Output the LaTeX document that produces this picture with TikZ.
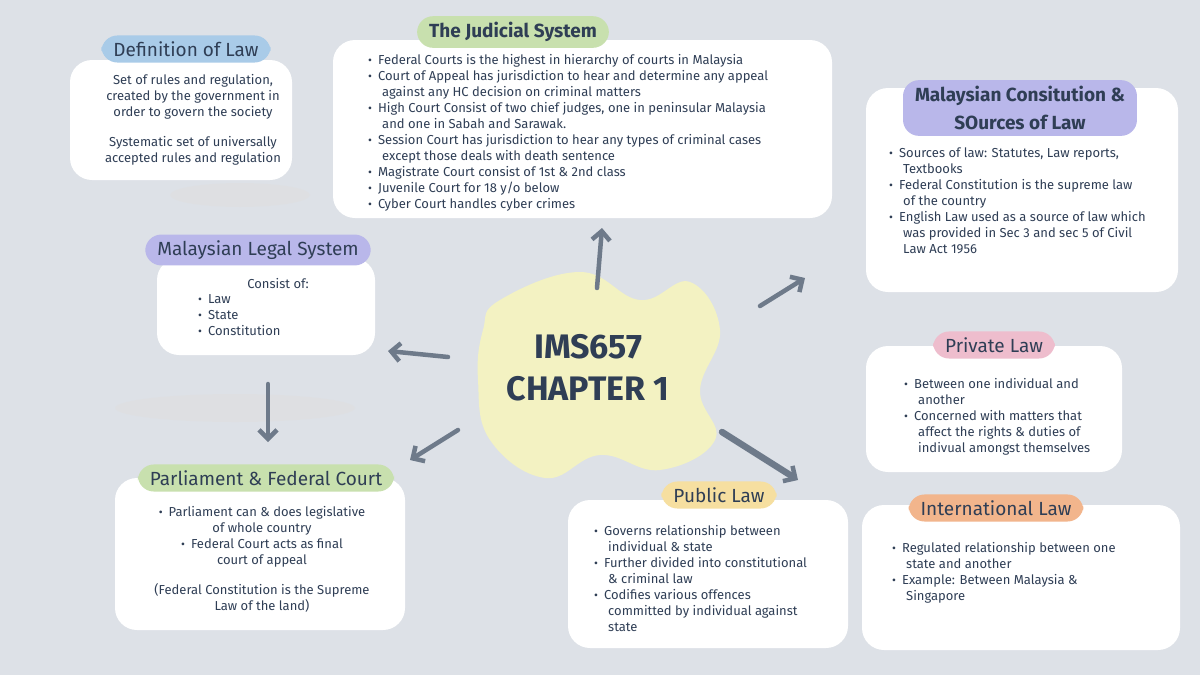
\documentclass[tikz,border=0pt]{standalone}
\usepackage{fontspec}
\setmainfont{Fira Sans}
\usetikzlibrary{arrows.meta}
\definecolor{bg}{HTML}{DDE1E7}
\definecolor{ink}{HTML}{2F3E55}
\definecolor{arr}{HTML}{6E7A8A}
\definecolor{tblue}{HTML}{A9CBE8}
\definecolor{tgreen}{HTML}{C8E0AE}
\definecolor{tpurple}{HTML}{B9B7EA}
\definecolor{tyellow}{HTML}{F6DFA0}
\definecolor{tpink}{HTML}{EEBDCD}
\definecolor{torange}{HTML}{F2B58C}
\definecolor{blob}{HTML}{F3F2C2}
\tikzset{
 box/.style={fill=white,rounded corners=22pt,draw=none},
 ttl/.style={rounded corners=16pt,inner xsep=12pt,inner ysep=6pt,text=ink,font=\fontsize{19}{22}\selectfont,align=center},
 body/.style={text=ink,font=\fontsize{13}{16}\selectfont,align=left,anchor=north west,inner sep=0pt},
 ar/.style={draw=arr,line width=4.5pt,line cap=round,-{Straight Barb[length=9pt,width=18pt,line width=4.5pt]}}
}
\newcommand{\bl}{{\large\textbullet}\hspace{6pt}}
\begin{document}
\begin{tikzpicture}[x=1pt,y=-1pt]
\useasboundingbox[fill=bg] (0,0) rectangle (1200,675);
\fill[gray!25,opacity=0.5] (240,195) ellipse (70 and 12);
\fill[gray!25,opacity=0.5] (235,408) ellipse (120 and 14);
% boxes
\path[box] (70,60) rectangle (292,180);
\path[box] (333,40) rectangle (832,218);
\path[box] (866,88) rectangle (1178,292);
\path[box] (157,258) rectangle (375,355);
\path[box] (115,478) rectangle (405,630);
\path[box] (568,500) rectangle (848,648);
\path[box] (866,346) rectangle (1122,472);
\path[box] (862,505) rectangle (1180,650);
% titles
\node[ttl,fill=tblue] (def) at (186,49) {Definition of Law};
\node[ttl,fill=tgreen,font=\bfseries\fontsize{19}{22}\selectfont] (jud) at (513,32) {The Judicial System};
\node[ttl,fill=tpurple,font=\bfseries\fontsize{19}{28}\selectfont] (con) at (1020,108) {Malaysian Consitution \&\\SOurces of Law};
\node[ttl,fill=tpurple] (mls) at (258,250) {Malaysian Legal System};
\node[ttl,fill=tgreen] (par) at (266,478) {Parliament \& Federal Court};
\node[ttl,fill=tyellow] (pub) at (719,495) {Public Law};
\node[ttl,fill=tpink] (pri) at (994,345) {Private Law};
\node[ttl,fill=torange] (int) at (996,508) {International Law};
% bodies
\node[body,align=center,anchor=north] (defb) at (193,74) {Set of rules and regulation,\\created by the government in\\order to govern the society\\[14pt]Systematic set of universally\\accepted rules and regulation};
\node[body] (judb) at (368,54) {\bl Federal Courts is the highest in hierarchy of courts in Malaysia\\
\bl Court of Appeal has jurisdiction to hear and determine any appeal\\
\hspace{14pt}against any HC decision on criminal matters\\
\bl High Court Consist of two chief judges, one in peninsular Malaysia\\
\hspace{14pt}and one in Sabah and Sarawak.\\
\bl Session Court has jurisdiction to hear any types of criminal cases\\
\hspace{14pt}except those deals with death sentence\\
\bl Magistrate Court consist of 1st \& 2nd class\\
\bl Juvenile Court for 18 y/o below\\
\bl Cyber Court handles cyber crimes};
\node[body] (conb) at (889,148) {\bl Sources of law: Statutes, Law reports,\\
\hspace{14pt}Textbooks\\
\bl Federal Constitution is the supreme law\\
\hspace{14pt}of the country\\
\bl English Law used as a source of law which\\
\hspace{14pt}was provided in Sec 3 and sec 5 of Civil\\
\hspace{14pt}Law Act 1956};
\node[body,anchor=north] (mlsb) at (278,278) {Consist of:};
\node[body] (mlsl) at (198,294) {\bl Law\\ \bl State\\ \bl Constitution};
\node[body,align=center,anchor=north] (parb) at (262,506) {\bl Parliament can \& does legislative\\of whole country\\\bl Federal Court acts as final\\court of appeal\\[14pt](Federal Constitution is the Supreme\\Law of the land)};
\node[body] (pubb) at (594,525) {\bl Governs relationship between\\
\hspace{14pt}individual \& state\\
\bl Further divided into constitutional\\
\hspace{14pt}\& criminal law\\
\bl Codifies various offences\\
\hspace{14pt}committed by individual against\\
\hspace{14pt}state};
\node[body] (prib) at (904,378) {\bl Between one individual and\\
\hspace{14pt}another\\
\bl Concerned with matters that\\
\hspace{14pt}affect the rights \& duties of\\
\hspace{14pt}indivual amongst themselves};
\node[body] (intb) at (892,542) {\bl Regulated relationship between one\\
\hspace{14pt}state and another\\
\bl Example: Between Malaysia \&\\
\hspace{14pt}Singapore};
% centre blob
\path[fill=blob] plot[smooth cycle,tension=0.7] coordinates {(500,300) (580,272) (640,300) (690,282) (720,330) (700,390) (715,440) (660,470) (600,455) (545,478) (490,440) (478,380) (483,330)};
\node[text=ink,font=\bfseries\fontsize{34}{42}\selectfont,align=center] (ctr) at (588,368) {IMS657\\CHAPTER 1};
% arrows
\coordinate (a1) at (597,288); \coordinate (a1e) at (602,228);
\coordinate (a2) at (760,306); \coordinate (a2e) at (805,278);
\coordinate (a3) at (448,357); \coordinate (a3e) at (388,351);
\coordinate (a4) at (458,430); \coordinate (a4e) at (410,460);
\coordinate (a5) at (268,384); \coordinate (a5e) at (268,442);
\coordinate (a6) at (722,432); \coordinate (a6e) at (798,480);
\draw[ar] (a1) -- (a1e);
\draw[ar] (a2) -- (a2e);
\draw[ar] (a3) -- (a3e);
\draw[ar] (a4) -- (a4e);
\draw[ar] (a5) -- (a5e);
\draw[ar,line width=6.5pt] (a6) -- (a6e);
\end{tikzpicture}
\end{document}
